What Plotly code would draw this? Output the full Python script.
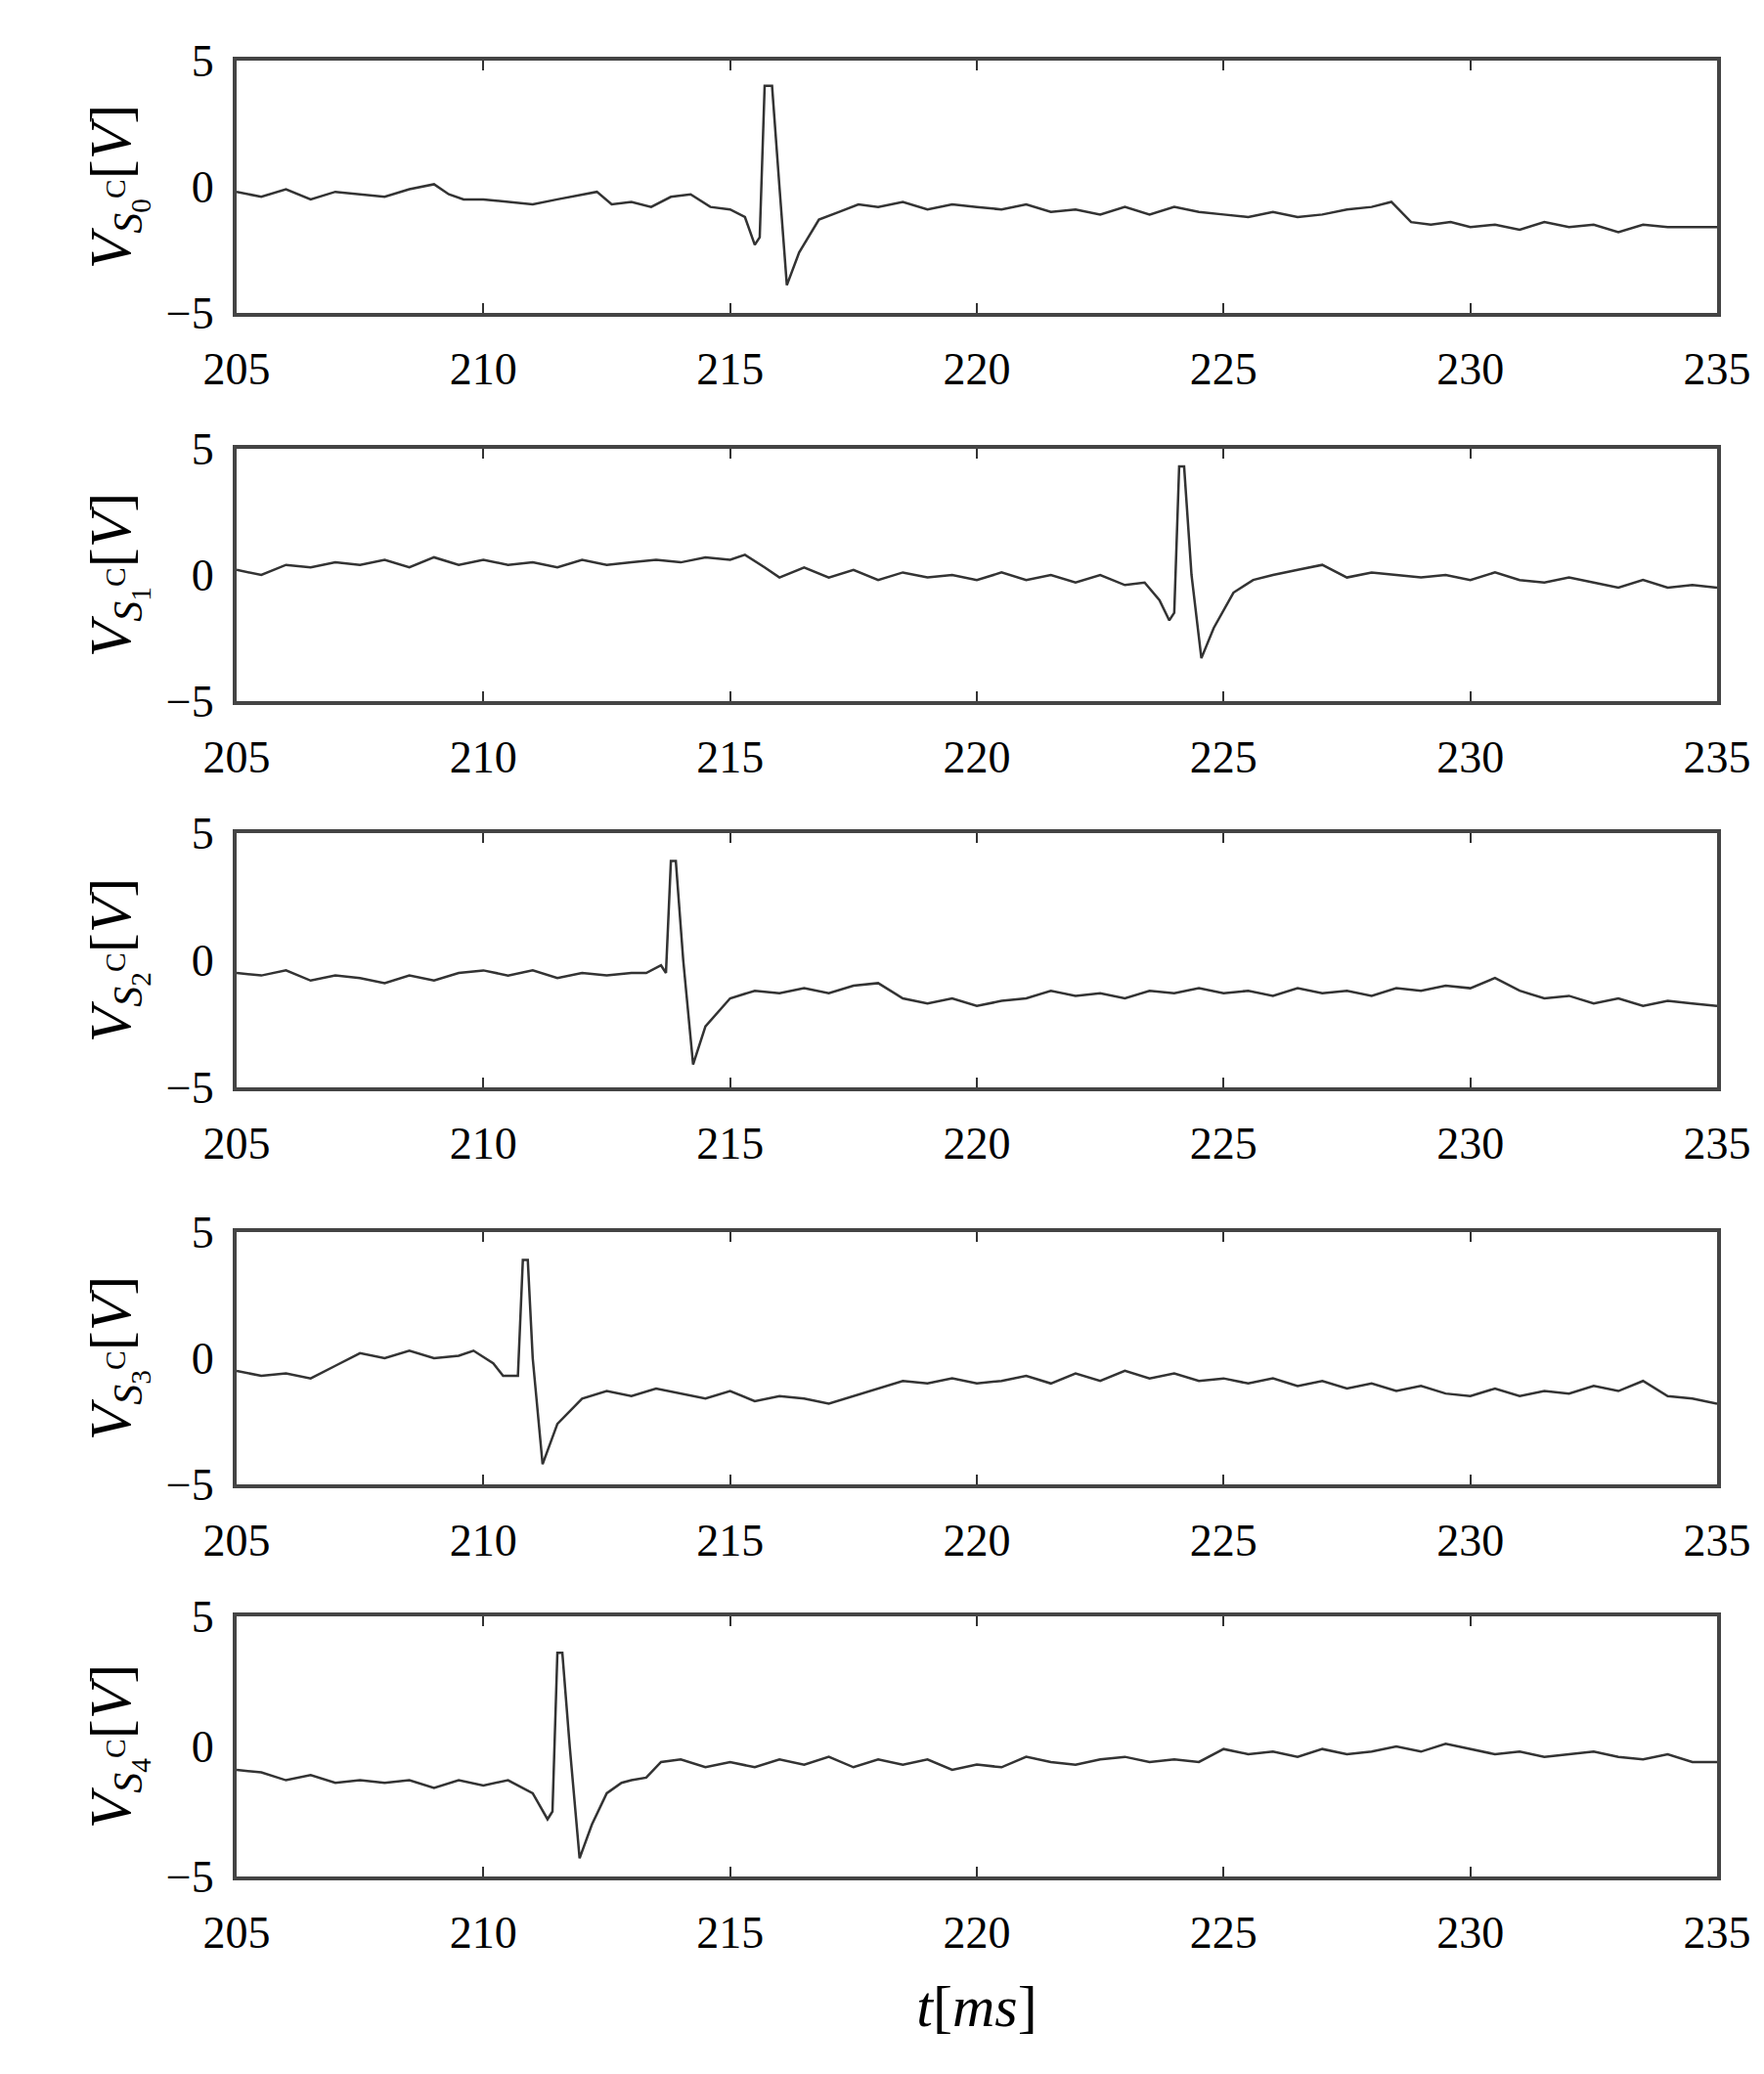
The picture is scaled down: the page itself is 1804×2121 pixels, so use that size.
import plotly.graph_objects as go

t0 = [205, 205.5, 206, 206.5, 207, 207.5, 208, 208.5, 209, 209.3, 209.6, 210, 210.5, 211, 211.5, 212, 212.3, 212.6, 213, 213.4, 213.8, 214.2, 214.6, 215, 215.3, 215.5, 215.6, 215.7, 215.85, 216.0, 216.15, 216.4, 216.8, 217.2, 217.6, 218, 218.5, 219, 219.5, 220, 220.5, 221, 221.5, 222, 222.5, 223, 223.5, 224, 224.5, 225, 225.5, 226, 226.5, 227, 227.5, 228, 228.4, 228.8, 229.2, 229.6, 230, 230.5, 231, 231.5, 232, 232.5, 233, 233.5, 234, 234.5, 235]
v0 = [-0.2, -0.4, -0.1, -0.5, -0.2, -0.3, -0.4, -0.1, 0.1, -0.3, -0.5, -0.5, -0.6, -0.7, -0.5, -0.3, -0.2, -0.7, -0.6, -0.8, -0.4, -0.3, -0.8, -0.9, -1.2, -2.3, -2.0, 4.0, 4.0, 0.0, -3.9, -2.6, -1.3, -1.0, -0.7, -0.8, -0.6, -0.9, -0.7, -0.8, -0.9, -0.7, -1.0, -0.9, -1.1, -0.8, -1.1, -0.8, -1.0, -1.1, -1.2, -1.0, -1.2, -1.1, -0.9, -0.8, -0.6, -1.4, -1.5, -1.4, -1.6, -1.5, -1.7, -1.4, -1.6, -1.5, -1.8, -1.5, -1.6, -1.6, -1.6]

t1 = [205, 205.5, 206, 206.5, 207, 207.5, 208, 208.5, 209, 209.5, 210, 210.5, 211, 211.5, 212, 212.5, 213, 213.5, 214, 214.5, 215, 215.3, 215.7, 216, 216.5, 217, 217.5, 218, 218.5, 219, 219.5, 220, 220.5, 221, 221.5, 222, 222.5, 223, 223.4, 223.7, 223.9, 224.0, 224.1, 224.2, 224.35, 224.55, 224.8, 225.2, 225.6, 226, 226.5, 227, 227.5, 228, 228.5, 229, 229.5, 230, 230.5, 231, 231.5, 232, 232.5, 233, 233.5, 234, 234.5, 235]
v1 = [0.2, 0.0, 0.4, 0.3, 0.5, 0.4, 0.6, 0.3, 0.7, 0.4, 0.6, 0.4, 0.5, 0.3, 0.6, 0.4, 0.5, 0.6, 0.5, 0.7, 0.6, 0.8, 0.3, -0.1, 0.3, -0.1, 0.2, -0.2, 0.1, -0.1, 0.0, -0.2, 0.1, -0.2, 0.0, -0.3, 0.0, -0.4, -0.3, -1.0, -1.8, -1.5, 4.3, 4.3, 0.0, -3.3, -2.1, -0.7, -0.2, 0.0, 0.2, 0.4, -0.1, 0.1, 0.0, -0.1, 0.0, -0.2, 0.1, -0.2, -0.3, -0.1, -0.3, -0.5, -0.2, -0.5, -0.4, -0.5]

t2 = [205, 205.5, 206, 206.5, 207, 207.5, 208, 208.5, 209, 209.5, 210, 210.5, 211, 211.5, 212, 212.5, 213, 213.3, 213.6, 213.7, 213.8, 213.9, 214.05, 214.25, 214.5, 215, 215.5, 216, 216.5, 217, 217.5, 218, 218.5, 219, 219.5, 220, 220.5, 221, 221.5, 222, 222.5, 223, 223.5, 224, 224.5, 225, 225.5, 226, 226.5, 227, 227.5, 228, 228.5, 229, 229.5, 230, 230.5, 231, 231.5, 232, 232.5, 233, 233.5, 234, 234.5, 235]
v2 = [-0.5, -0.6, -0.4, -0.8, -0.6, -0.7, -0.9, -0.6, -0.8, -0.5, -0.4, -0.6, -0.4, -0.7, -0.5, -0.6, -0.5, -0.5, -0.2, -0.5, 3.9, 3.9, 0.0, -4.1, -2.6, -1.5, -1.2, -1.3, -1.1, -1.3, -1.0, -0.9, -1.5, -1.7, -1.5, -1.8, -1.6, -1.5, -1.2, -1.4, -1.3, -1.5, -1.2, -1.3, -1.1, -1.3, -1.2, -1.4, -1.1, -1.3, -1.2, -1.4, -1.1, -1.2, -1.0, -1.1, -0.7, -1.2, -1.5, -1.4, -1.7, -1.5, -1.8, -1.6, -1.7, -1.8]

t3 = [205, 205.5, 206, 206.5, 207, 207.5, 208, 208.5, 209, 209.5, 209.8, 210.2, 210.4, 210.7, 210.8, 210.9, 211.0, 211.2, 211.5, 212, 212.5, 213, 213.5, 214, 214.5, 215, 215.5, 216, 216.5, 217, 217.5, 218, 218.5, 219, 219.5, 220, 220.5, 221, 221.5, 222, 222.5, 223, 223.5, 224, 224.5, 225, 225.5, 226, 226.5, 227, 227.5, 228, 228.5, 229, 229.5, 230, 230.5, 231, 231.5, 232, 232.5, 233, 233.5, 234, 234.5, 235]
v3 = [-0.5, -0.7, -0.6, -0.8, -0.3, 0.2, 0.0, 0.3, 0.0, 0.1, 0.3, -0.2, -0.7, -0.7, 3.9, 3.9, 0.0, -4.2, -2.6, -1.6, -1.3, -1.5, -1.2, -1.4, -1.6, -1.3, -1.7, -1.5, -1.6, -1.8, -1.5, -1.2, -0.9, -1.0, -0.8, -1.0, -0.9, -0.7, -1.0, -0.6, -0.9, -0.5, -0.8, -0.6, -0.9, -0.8, -1.0, -0.8, -1.1, -0.9, -1.2, -1.0, -1.3, -1.1, -1.4, -1.5, -1.2, -1.5, -1.3, -1.4, -1.1, -1.3, -0.9, -1.5, -1.6, -1.8]

t4 = [205, 205.5, 206, 206.5, 207, 207.5, 208, 208.5, 209, 209.5, 210, 210.5, 211, 211.3, 211.4, 211.5, 211.6, 211.75, 211.95, 212.2, 212.5, 212.8, 213, 213.3, 213.6, 214, 214.5, 215, 215.5, 216, 216.5, 217, 217.5, 218, 218.5, 219, 219.5, 220, 220.5, 221, 221.5, 222, 222.5, 223, 223.5, 224, 224.5, 225, 225.5, 226, 226.5, 227, 227.5, 228, 228.5, 229, 229.5, 230, 230.5, 231, 231.5, 232, 232.5, 233, 233.5, 234, 234.5, 235]
v4 = [-0.9, -1.0, -1.3, -1.1, -1.4, -1.3, -1.4, -1.3, -1.6, -1.3, -1.5, -1.3, -1.8, -2.8, -2.5, 3.6, 3.6, 0.0, -4.3, -3.0, -1.8, -1.4, -1.3, -1.2, -0.6, -0.5, -0.8, -0.6, -0.8, -0.5, -0.7, -0.4, -0.8, -0.5, -0.7, -0.5, -0.9, -0.7, -0.8, -0.4, -0.6, -0.7, -0.5, -0.4, -0.6, -0.5, -0.6, -0.1, -0.3, -0.2, -0.4, -0.1, -0.3, -0.2, 0.0, -0.2, 0.1, -0.1, -0.3, -0.2, -0.4, -0.3, -0.2, -0.4, -0.5, -0.3, -0.6, -0.6]

ts = [t0, t1, t2, t3, t4]
vs = [v0, v1, v2, v3, v4]
xticks = [205, 210, 215, 220, 225, 230, 235]
yticks = [-5, 0, 5]
ylabels = [f"<i>V</i><sub><i>S</i><sub>{i}</sub><sup>C</sup></sub>[<i>V</i>]" for i in range(5)]

H = 2121.0
panels_px = [(54, 312), (451, 709), (844, 1104), (1252, 1510), (1645, 1911)]

fig = go.Figure()
font = dict(family="Liberation Serif", size=46, color="black")
for i in range(5):
    xa = "x" if i == 0 else f"x{i+1}"
    ya = "y" if i == 0 else f"y{i+1}"
    fig.add_trace(go.Scatter(x=ts[i], y=vs[i], mode="lines",
                             line=dict(color="#333333", width=2.5),
                             xaxis=xa, yaxis=ya, showlegend=False))
    top, bot = panels_px[i]
    dom = [1 - bot / H, 1 - top / H]
    axx = dict(domain=[0, 1], range=[205, 235], tickvals=xticks, ticks="inside",
               ticklen=10, tickwidth=2, tickcolor="#333", showline=True, linewidth=4,
               linecolor="#444", mirror="ticks", showgrid=False, zeroline=False,
               anchor=ya, tickfont=font, ticklabelstandoff=14, automargin=False)
    axy = dict(domain=dom, range=[-5, 5], tickvals=yticks, ticks="", showline=True,
               linewidth=4, linecolor="#444", mirror=True, showgrid=False, zeroline=False,
               anchor=xa, tickfont=font, ticklabelstandoff=10, automargin=False,
               title=dict(text=ylabels[i], font=dict(family="Liberation Serif", size=60, color="black"), standoff=18))
    if i == 4:
        axx["title"] = dict(text="<i>t</i>[<i>ms</i>]", font=dict(family="Liberation Serif", size=60, color="black"), standoff=30)
    fig.layout[("xaxis" if i == 0 else f"xaxis{i+1}")] = axx
    fig.layout[("yaxis" if i == 0 else f"yaxis{i+1}")] = axy

fig.update_layout(width=1804, height=2121, plot_bgcolor="white", paper_bgcolor="white",
                  margin=dict(l=234, r=56, t=0, b=0))
fig.write_html("out.html")
